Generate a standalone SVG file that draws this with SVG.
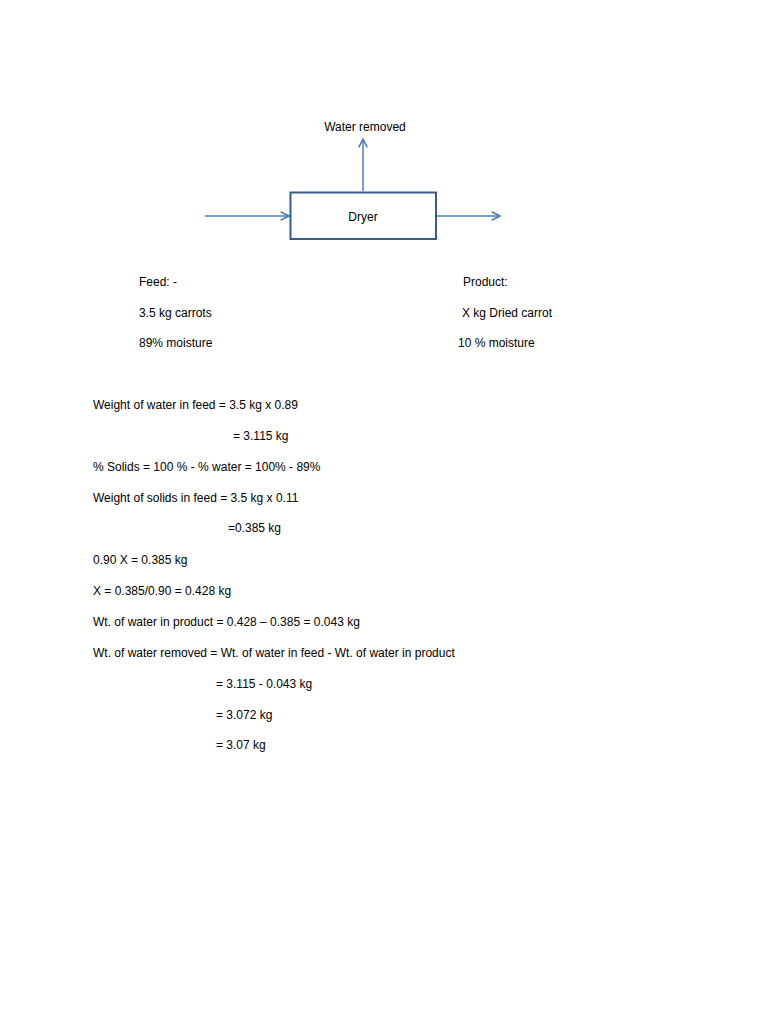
<svg xmlns="http://www.w3.org/2000/svg" width="768" height="1024" viewBox="0 0 768 1024">
<style>
text{font-family:"Liberation Sans",Arial,sans-serif;font-size:12px;fill:#000}
.c{stroke:#4a7ebb;stroke-width:1.5;fill:none}
</style>
<defs><marker id="a" viewBox="0 0 10 10" refX="9" refY="5" markerWidth="7" markerHeight="7" orient="auto"><path d="M1,1 L9,5 L1,9" fill="none" stroke="#4a7ebb" stroke-width="1.5"/></marker></defs>
<rect width="768" height="1024" fill="#fff"/>
<g id="connectors">
<line class="c" x1="205" y1="216" x2="289" y2="216" marker-end="url(#a)"/>
<line class="c" x1="437" y1="216" x2="500" y2="216" marker-end="url(#a)"/>
<line class="c" x1="363" y1="191" x2="363" y2="139" marker-end="url(#a)"/>
</g>
<g id="dryer"><rect x="290.5" y="192.5" width="145.5" height="46.5" fill="#fff" stroke="#385d8a" stroke-width="2"/><text x="363" y="221" text-anchor="middle">Dryer</text></g>
<g id="water"><text x="365" y="131" text-anchor="middle">Water removed</text></g>
<text x="139" y="286">Feed: -</text>
<text x="139" y="317">3.5 kg carrots</text>
<text x="139" y="347">89% moisture</text>
<text x="463" y="286">Product:</text>
<text x="462" y="317">X kg Dried carrot</text>
<text x="458" y="347">10 % moisture</text>
<text x="93" y="409">Weight of water in feed = 3.5 kg x 0.89</text>
<text x="233" y="440">= 3.115 kg</text>
<text x="93" y="471">% Solids = 100 % - % water = 100% - 89%</text>
<text x="93" y="502">Weight of solids in feed = 3.5 kg x 0.11</text>
<text x="228" y="532">=0.385 kg</text>
<text x="93" y="564">0.90 X = 0.385 kg</text>
<text x="93" y="595">X = 0.385/0.90 = 0.428 kg</text>
<text x="93" y="626">Wt. of water in product = 0.428 – 0.385 = 0.043 kg</text>
<text x="93" y="657">Wt. of water removed = Wt. of water in feed - Wt. of water in product</text>
<text x="216" y="688">= 3.115 - 0.043 kg</text>
<text x="216" y="719">= 3.072 kg</text>
<text x="216" y="749">= 3.07 kg</text>
</svg>
